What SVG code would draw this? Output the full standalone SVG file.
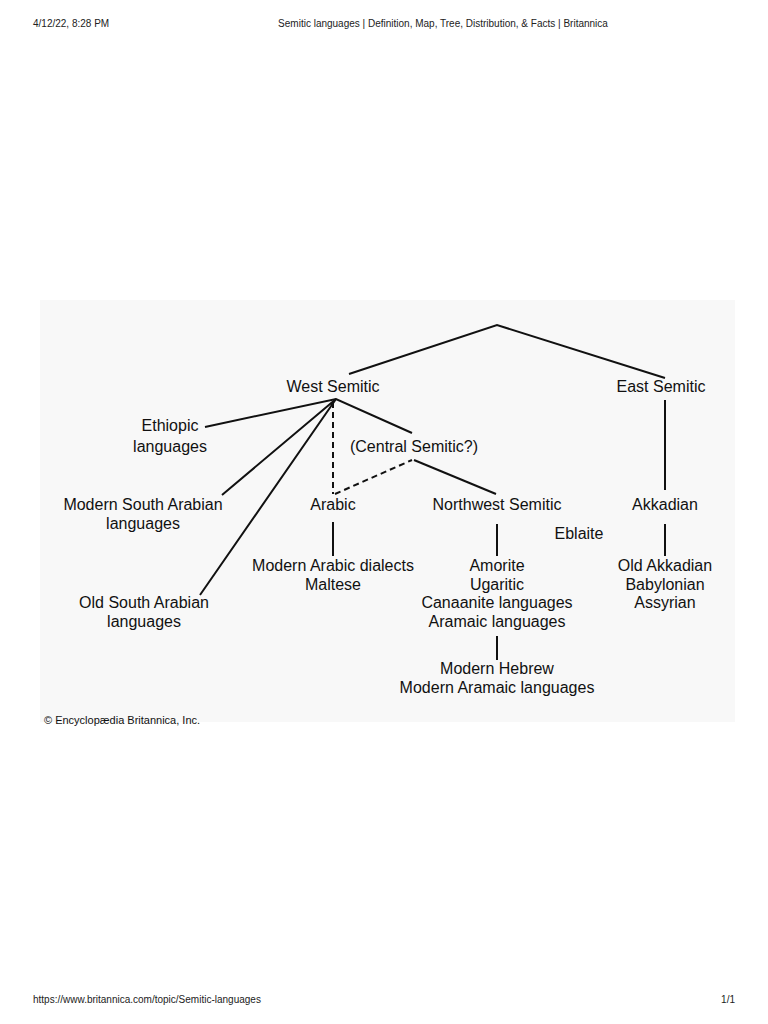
<svg xmlns="http://www.w3.org/2000/svg" width="768" height="1024" viewBox="0 0 768 1024">
<style>
text{font-family:"Liberation Sans",Arial,sans-serif;fill:#111;}
.n{font-size:16px;text-anchor:middle;}
.s{font-size:10px;fill:#222;}
.l{stroke:#111;stroke-width:2;fill:none;}
.d{stroke-dasharray:6,4;}
</style>
<rect width="768" height="1024" fill="#fff"/>
<rect x="40" y="300" width="695" height="422" fill="#f8f8f8"/>
<text class="s" x="33" y="27">4/12/22, 8:28 PM</text>
<text class="s" x="443" y="27" text-anchor="middle">Semitic languages | Definition, Map, Tree, Distribution, &amp; Facts | Britannica</text>
<text class="s" x="33" y="1003">https://www.britannica.com/topic/Semitic-languages</text>
<text class="s" x="735" y="1003" text-anchor="end">1/1</text>
<g id="connectors">
<path class="l" d="M349,374 L497,325 L665,378"/>
<path class="l" d="M205,427 L336,399 L412,433"/>
<path class="l" d="M222,495 L336,399 L200,595"/>
<path class="l d" d="M333,402 L333,494"/>
<path class="l d" d="M335,494 L412,460"/>
<path class="l" d="M414,460 L496,494"/>
<path class="l" d="M333,522 L333,556"/>
<path class="l" d="M497,524 L497,556"/>
<path class="l" d="M665,400 L665,490"/>
<path class="l" d="M665,524 L665,556"/>
<path class="l" d="M497,636 L497,660"/>
</g>
<g id="west"><text class="n" x="333" y="392">West Semitic</text></g>
<g id="east"><text class="n" x="661" y="392">East Semitic</text></g>
<g id="ethiopic"><text class="n" x="170" y="431">Ethiopic</text><text class="n" x="170" y="452">languages</text></g>
<g id="central"><text class="n" x="414" y="452">(Central Semitic?)</text></g>
<g id="msa"><text class="n" x="143" y="510">Modern South Arabian</text><text class="n" x="143" y="529">languages</text></g>
<g id="arabic"><text class="n" x="333" y="510">Arabic</text></g>
<g id="nw"><text class="n" x="497" y="510">Northwest Semitic</text></g>
<g id="akkadian"><text class="n" x="665" y="510">Akkadian</text></g>
<g id="eblaite"><text class="n" x="579" y="539">Eblaite</text></g>
<g id="arabicdial"><text class="n" x="333" y="571">Modern Arabic dialects</text><text class="n" x="333" y="590">Maltese</text></g>
<g id="nwlangs"><text class="n" x="497" y="571">Amorite</text><text class="n" x="497" y="590">Ugaritic</text><text class="n" x="497" y="608">Canaanite languages</text><text class="n" x="497" y="627">Aramaic languages</text></g>
<g id="akklangs"><text class="n" x="665" y="571">Old Akkadian</text><text class="n" x="665" y="590">Babylonian</text><text class="n" x="665" y="608">Assyrian</text></g>
<g id="osa"><text class="n" x="144" y="608">Old South Arabian</text><text class="n" x="144" y="627">languages</text></g>
<g id="modern"><text class="n" x="497" y="674">Modern Hebrew</text><text class="n" x="497" y="693">Modern Aramaic languages</text></g>
<text x="44" y="724" font-size="11">© Encyclopædia Britannica, Inc.</text>
</svg>
